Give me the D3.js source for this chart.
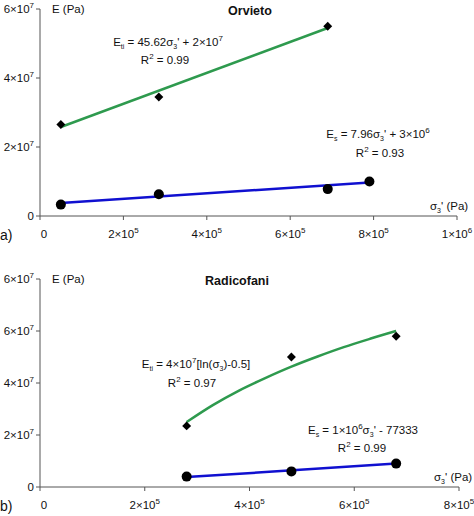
<!DOCTYPE html>
<html><head><meta charset="utf-8">
<script src="https://cdn.jsdelivr.net/npm/d3@7"></script>
<style>body{margin:0;background:#fff}text{font-family:"Liberation Sans",Arial,sans-serif;font-size:11.5px;fill:#111}</style>
</head><body><svg width="474" height="516"></svg>
<script>
// Panel a) Orvieto
const aTiX = [5e4, 2.85e5, 6.9e5];
const aTiY = [2.65e7, 3.45e7, 5.5e7];
const aSX = [5e4, 2.85e5, 6.9e5, 7.9e5];
const aSY = [3.3e6, 6.3e6, 7.8e6, 1.0e7];
const aTiFitX = [5e4, 6.9e5];
const aTiFitY = [2.58e7, 5.45e7];
const aSFitX = [5e4, 7.9e5];
const aSFitY = [3.8e6, 9.7e6];
const aXTicks = [0, 2e5, 4e5, 6e5, 8e5, 1e6];
const aXLabels = ["0", "2×10|5", "4×10|5", "6×10|5", "8×10|5", "1×10|6"];
const yTicks = [0, 2e7, 4e7, 6e7];
const aYLabels = ["0", "2×10|7", "4×10|7", "6×10|7"];
// Panel b) Radicofani
const bTiX = [2.8e5, 4.8e5, 6.8e5];
const bTiY = [2.35e7, 5.0e7, 5.8e7];
const bSX = [2.8e5, 4.8e5, 6.8e5];
const bSY = [4.0e6, 6.0e6, 9.0e6];
const bTiFitX = [2.8e5, 3.3e5, 3.8e5, 4.3e5, 4.8e5, 5.3e5, 5.8e5, 6.3e5, 6.8e5];
const bTiFitY = [2.5e7, 3.15e7, 3.71e7, 4.19e7, 4.63e7, 5.02e7, 5.38e7, 5.7e7, 6.0e7];
const bSFitX = [2.8e5, 6.8e5];
const bSFitY = [3.8e6, 9.0e6];
const bXTicks = [0, 2e5, 4e5, 6e5, 8e5];
const bXLabels = ["0", "2×10|5", "4×10|5", "6×10|5", "8×10|5"];
const bYTicks = [0, 2e7, 4e7, 6e7, 8e7];
const bYLabels = ["0", "2×10|7", "4×10|7", "6×10|7", "6×10|7"];

const svg = d3.select("svg");

function sup(sel, s) {
  const [b, e] = s.split("|");
  sel.append("tspan").text(b);
  if (e) sel.append("tspan").attr("dy", -5).style("font-size", "8px").text(e);
}

function panel(o) {
  const x = d3.scaleLinear().domain([0, o.xMax]).range([40, o.xEnd]);
  const y = d3.scaleLinear().domain([0, o.yMax]).range([o.y0, o.yTop]);
  const g = svg.append("g");
  g.append("line").attr("x1", 40).attr("x2", o.xEnd).attr("y1", o.y0).attr("y2", o.y0).attr("stroke", "#555");
  g.append("line").attr("x1", 40).attr("x2", 40).attr("y1", o.y0).attr("y2", o.yTop).attr("stroke", "#555");
  o.xTicks.forEach((t, i) => {
    g.append("line").attr("x1", x(t)).attr("x2", x(t)).attr("y1", o.y0).attr("y2", o.y0 + 4).attr("stroke", "#555");
    const tx = g.append("text").attr("x", x(t) + (i === 0 ? 4 : 0)).attr("y", o.y0 + 22).attr("text-anchor", "middle");
    sup(tx, o.xLabels[i]);
  });
  o.yTicks.forEach((t, i) => {
    g.append("line").attr("x1", 36).attr("x2", 40).attr("y1", y(t)).attr("y2", y(t)).attr("stroke", "#555");
    const ty = g.append("text").attr("x", 34).attr("y", y(t) + 4).attr("text-anchor", "end");
    sup(ty, o.yLabels[i]);
  });
  const line = d3.line().x(d => x(d[0])).y(d => y(d[1]));
  const lineC = d3.line().curve(d3.curveMonotoneX).x(d => x(d[0])).y(d => y(d[1]));
  g.append("path").attr("d", lineC(d3.zip(o.tiFitX, o.tiFitY))).attr("fill", "none").attr("stroke", "#2e9a4e").attr("stroke-width", 2.5);
  g.append("path").attr("d", line(d3.zip(o.sFitX, o.sFitY))).attr("fill", "none").attr("stroke", "#1010d0").attr("stroke-width", 2.5);
  g.selectAll(".dia").data(d3.zip(o.tiX, o.tiY)).join("path")
    .attr("d", d3.symbol(d3.symbolSquare, 40))
    .attr("transform", d => `translate(${x(d[0])},${y(d[1])}) rotate(45)`).attr("fill", "#000");
  g.selectAll(".dot").data(d3.zip(o.sX, o.sY)).join("circle")
    .attr("cx", d => x(d[0])).attr("cy", d => y(d[1])).attr("r", 5).attr("fill", "#000");
  g.append("text").attr("x", 52).attr("y", o.yTop + 4).text("E (Pa)");
  g.append("text").attr("x", o.titleX).attr("y", o.yTop + 6).attr("text-anchor", "middle")
    .style("font-weight", "bold").style("font-size", "12.5px").text(o.title);
  g.append("text").attr("x", 0).attr("y", o.y0 + 24).style("font-size", "14px").text(o.tag);
  const ax = g.append("text").attr("x", o.axX).attr("y", o.y0 - 6);
  ax.append("tspan").text("σ");
  ax.append("tspan").attr("dy", 3).style("font-size", "7px").text("3");
  ax.append("tspan").attr("dy", -3).text("' (Pa)");
  o.eq.forEach(e => {
    const t = g.append("text").attr("x", e.x).attr("y", e.y).attr("text-anchor", "middle");
    e.parts.forEach(p => t.append("tspan").attr("dy", p[1]).style("font-size", p[2] || "11.5px").text(p[0]));
  });
}

panel({
  xMax: 1e6, xEnd: 457, yMax: 6e7, y0: 216, yTop: 9, titleX: 250, title: "Orvieto", tag: "a)", axX: 430,
  xTicks: aXTicks, xLabels: aXLabels, yTicks: yTicks, yLabels: aYLabels,
  tiX: aTiX, tiY: aTiY, sX: aSX, sY: aSY, tiFitX: aTiFitX, tiFitY: aTiFitY, sFitX: aSFitX, sFitY: aSFitY,
  eq: [
    { x: 168, y: 46, parts: [["E", 0], ["ti", 3, "7px"], [" = 45.62σ", -3], ["3", 3, "7px"], ["' + 2×10", -3], ["7", -5, "8px"]] },
    { x: 165, y: 64, parts: [["R", 0], ["2", -5, "8px"], [" = 0.99", 5]] },
    { x: 378, y: 138, parts: [["E", 0], ["s", 3, "7px"], [" = 7.96σ", -3], ["3", 3, "7px"], ["' + 3×10", -3], ["6", -5, "8px"]] },
    { x: 380, y: 157, parts: [["R", 0], ["2", -5, "8px"], [" = 0.93", 5]] }
  ]
});

panel({
  xMax: 8e5, xEnd: 459, yMax: 8e7, y0: 487, yTop: 279, titleX: 237, title: "Radicofani", tag: "b)", axX: 434,
  xTicks: bXTicks, xLabels: bXLabels, yTicks: bYTicks, yLabels: bYLabels,
  tiX: bTiX, tiY: bTiY, sX: bSX, sY: bSY, tiFitX: bTiFitX, tiFitY: bTiFitY, sFitX: bSFitX, sFitY: bSFitY,
  eq: [
    { x: 196, y: 368, parts: [["E", 0], ["ti", 3, "7px"], [" = 4×10", -3], ["7", -5, "8px"], ["[ln(σ", 5], ["3", 3, "7px"], [")-0.5]", -3]] },
    { x: 192, y: 387, parts: [["R", 0], ["2", -5, "8px"], [" = 0.97", 5]] },
    { x: 363, y: 434, parts: [["E", 0], ["s", 3, "7px"], [" = 1×10", -3], ["6", -5, "8px"], ["σ", 5], ["3", 3, "7px"], ["' - 77333", -3]] },
    { x: 362, y: 452, parts: [["R", 0], ["2", -5, "8px"], [" = 0.99", 5]] }
  ]
});
</script></body></html>
